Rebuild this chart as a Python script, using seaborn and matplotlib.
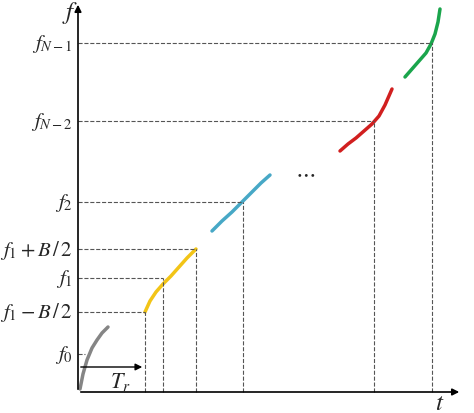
import numpy as np
import pandas as pd
import matplotlib
matplotlib.use("Agg")
import matplotlib.pyplot as plt
import seaborn as sns

sns.set_style("white")
plt.rcParams["mathtext.fontset"] = "stix"
plt.rcParams["font.family"] = ["Liberation Serif", "DejaVu Serif"]

# chirp segments (t, f)
seg_t = {
    "gray": [2, 5, 9, 14, 19, 24, 30],
    "yellow": [67, 72, 78, 85, 93, 101, 109, 118],
    "cyan": [134, 144, 154, 164, 174, 183, 192],
    "red": [262, 270, 278, 286, 294, 301, 307, 314],
    "green": [327, 334, 341, 348, 353, 357, 360, 362],
}
seg_f = {
    "gray": [3, 18, 32, 44, 52, 59, 65],
    "yellow": [80, 91, 100, 108, 116, 125, 134, 143],
    "cyan": [161, 171, 180, 190, 200, 209, 217],
    "red": [241, 248, 254, 261, 268, 276, 287, 303],
    "green": [315, 323, 331, 339, 348, 358, 370, 383],
}
seg_colors = {"gray": "#858585", "yellow": "#f2c417", "cyan": "#47a8c6",
              "red": "#d11f1f", "green": "#1aa54c"}

# reference frequency levels and where their dashed guides end
level_f = [38, 80, 114, 143, 190, 271, 349]
level_t = [7, 67, 85, 118, 165, 296, 354]
level_labels = [r"$f_0$", r"$f_1-B\,/\,2$", r"$f_1$", r"$f_1+B\,/\,2$",
                r"$f_2$", r"$f_{N-2}$", r"$f_{N-1}$"]

fig = plt.figure(figsize=(4.74, 4.14), dpi=100)
ax = fig.add_axes([0, 0, 1, 1])
ax.set_xlim(-78, 396)
ax.set_ylim(-21, 393)
ax.axis("off")

for name in seg_t:
    df = pd.DataFrame({"t": seg_t[name], "f": seg_f[name]})
    sns.lineplot(data=df, x="t", y="f", ax=ax, color=seg_colors[name], lw=2.5)

for f, t, lab in zip(level_f, level_t, level_labels):
    ax.plot([0, t], [f, f], ls="--", color="#555555", lw=0.8)
    if f != level_f[0]:
        ax.plot([t, t], [0, f], ls="--", color="#555555", lw=0.8)
    ax.text(-5, f, lab, ha="right", va="center", fontsize=15)

# axes arrows
ax.annotate("", xy=(0, 390), xytext=(0, 0),
            arrowprops=dict(arrowstyle="-|>", color="black", lw=1.2))
ax.annotate("", xy=(384, 0), xytext=(0, 0),
            arrowprops=dict(arrowstyle="-|>", color="black", lw=1.2))
ax.text(-8, 380, r"$f$", fontsize=18, ha="center", va="center")
ax.text(362, -11, r"$t$", fontsize=18, ha="center", va="center")

# T_r arrow
ax.annotate("", xy=(67, 25), xytext=(0, 25),
            arrowprops=dict(arrowstyle="-|>", color="black", lw=1.0))
ax.text(42, 11, r"$T_r$", fontsize=16, ha="center", va="center")
ax.text(227, 218, r"$\cdots$", fontsize=16, ha="center", va="center")

fig.savefig("out.png", dpi=100)
